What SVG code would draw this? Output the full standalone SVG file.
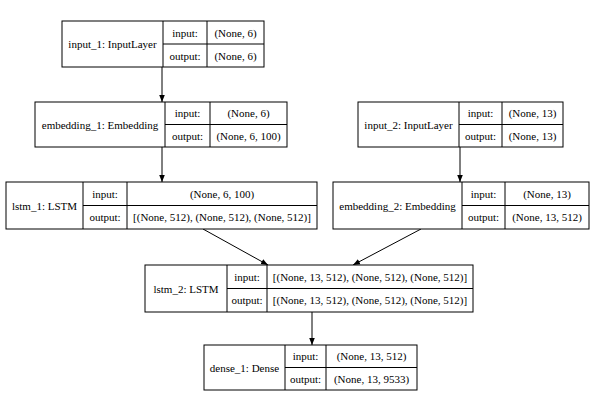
<svg xmlns="http://www.w3.org/2000/svg" width="597" height="407" viewBox="0 0 597 407">
<style>
.b{fill:#fff;stroke:#000;stroke-width:1}
.l{stroke:#000;stroke-width:1}
text{font-family:"Liberation Serif","Times New Roman",serif;font-size:11px;fill:#000;text-anchor:middle}
.e{stroke:#000;stroke-width:1;fill:none;marker-end:url(#a)}
</style>
<defs>
<marker id="a" viewBox="0 0 10 10" refX="10" refY="5" markerWidth="7" markerHeight="7" markerUnits="userSpaceOnUse" orient="auto">
<path d="M0,1 L10,5 L0,9 z" fill="#000"/>
</marker>
</defs>
<rect width="597" height="407" fill="#fff"/>
<g id="connectors">
<line class="e" x1="162" y1="67" x2="162" y2="102"/>
<line class="e" x1="162" y1="147" x2="162" y2="182"/>
<line class="e" x1="460" y1="147" x2="460" y2="182"/>
<line class="e" x1="203" y1="229" x2="268" y2="265"/>
<line class="e" x1="421" y1="229" x2="353" y2="265"/>
<line class="e" x1="312" y1="312" x2="312" y2="345"/>
</g>
<g id="input_1">
<rect class="b" x="62" y="21" width="202" height="46"/>
<line class="l" x1="163" y1="21" x2="163" y2="67"/>
<line class="l" x1="207" y1="21" x2="207" y2="67"/>
<line class="l" x1="163" y1="44" x2="264" y2="44"/>
<text x="112.5" y="48">input_1: InputLayer</text>
<text x="185" y="36.5">input:</text>
<text x="235.5" y="36.5">(None, 6)</text>
<text x="185" y="59.5">output:</text>
<text x="235.5" y="59.5">(None, 6)</text>
</g>
<g id="embedding_1">
<rect class="b" x="35" y="102" width="252" height="45"/>
<line class="l" x1="165" y1="102" x2="165" y2="147"/>
<line class="l" x1="210" y1="102" x2="210" y2="147"/>
<line class="l" x1="165" y1="124.5" x2="287" y2="124.5"/>
<text x="100" y="128.5">embedding_1: Embedding</text>
<text x="187.5" y="117">input:</text>
<text x="248.5" y="117">(None, 6)</text>
<text x="187.5" y="140">output:</text>
<text x="248.5" y="140">(None, 6, 100)</text>
</g>
<g id="input_2">
<rect class="b" x="358" y="102" width="205" height="45"/>
<line class="l" x1="459" y1="102" x2="459" y2="147"/>
<line class="l" x1="502" y1="102" x2="502" y2="147"/>
<line class="l" x1="459" y1="124.5" x2="563" y2="124.5"/>
<text x="408.5" y="128.5">input_2: InputLayer</text>
<text x="480.5" y="117">input:</text>
<text x="532.5" y="117">(None, 13)</text>
<text x="480.5" y="140">output:</text>
<text x="532.5" y="140">(None, 13)</text>
</g>
<g id="lstm_1">
<rect class="b" x="6" y="182" width="311" height="47"/>
<line class="l" x1="83" y1="182" x2="83" y2="229"/>
<line class="l" x1="127" y1="182" x2="127" y2="229"/>
<line class="l" x1="83" y1="205.5" x2="317" y2="205.5"/>
<text x="44.5" y="209.5">lstm_1: LSTM</text>
<text x="105" y="197.5">input:</text>
<text x="222" y="197.5">(None, 6, 100)</text>
<text x="105" y="221">output:</text>
<text x="222" y="221">[(None, 512), (None, 512), (None, 512)]</text>
</g>
<g id="embedding_2">
<rect class="b" x="333" y="182" width="256" height="47"/>
<line class="l" x1="462" y1="182" x2="462" y2="229"/>
<line class="l" x1="505" y1="182" x2="505" y2="229"/>
<line class="l" x1="462" y1="205.5" x2="589" y2="205.5"/>
<text x="397.5" y="209.5">embedding_2: Embedding</text>
<text x="483.5" y="197.5">input:</text>
<text x="547" y="197.5">(None, 13)</text>
<text x="483.5" y="221">output:</text>
<text x="547" y="221">(None, 13, 512)</text>
</g>
<g id="lstm_2">
<rect class="b" x="145" y="265" width="328" height="47"/>
<line class="l" x1="227" y1="265" x2="227" y2="312"/>
<line class="l" x1="267" y1="265" x2="267" y2="312"/>
<line class="l" x1="227" y1="288.5" x2="473" y2="288.5"/>
<text x="186" y="292.5">lstm_2: LSTM</text>
<text x="247" y="280.5">input:</text>
<text x="370" y="280.5">[(None, 13, 512), (None, 512), (None, 512)]</text>
<text x="247" y="304">output:</text>
<text x="370" y="304">[(None, 13, 512), (None, 512), (None, 512)]</text>
</g>
<g id="dense_1">
<rect class="b" x="204" y="345" width="213" height="45"/>
<line class="l" x1="285" y1="345" x2="285" y2="390"/>
<line class="l" x1="326" y1="345" x2="326" y2="390"/>
<line class="l" x1="285" y1="367.5" x2="417" y2="367.5"/>
<text x="244.5" y="371.5">dense_1: Dense</text>
<text x="305.5" y="360">input:</text>
<text x="371.5" y="360">(None, 13, 512)</text>
<text x="305.5" y="383">output:</text>
<text x="371.5" y="383">(None, 13, 9533)</text>
</g>
</svg>
